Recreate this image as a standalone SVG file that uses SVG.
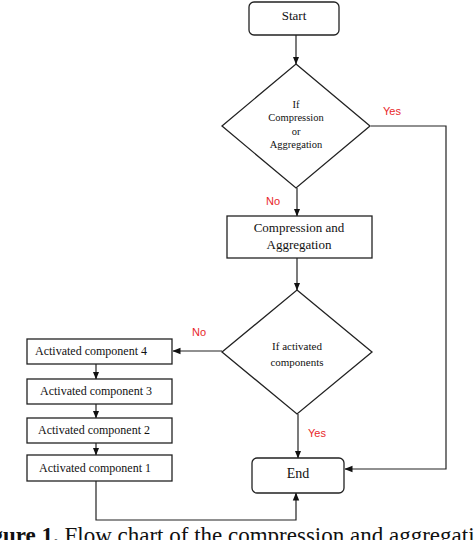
<svg xmlns="http://www.w3.org/2000/svg" width="474" height="540" viewBox="0 0 474 540">
<style>
.shape{fill:#fff;stroke:#222;stroke-width:1.3}
.t{font-family:"Liberation Serif","Times New Roman",serif;fill:#111;text-anchor:middle}
.lbl{font-family:"Liberation Sans",Arial,sans-serif;font-size:11px;fill:#e8262a}
.c{fill:none;stroke:#222;stroke-width:1.2}
.cap{font-family:"Liberation Serif","Times New Roman",serif;font-size:23px;fill:#111}
</style>
<defs>
<marker id="arr" markerUnits="userSpaceOnUse" markerWidth="8" markerHeight="8" viewBox="0 0 8 8" refX="7.5" refY="4" orient="auto">
<path d="M0,0.8 L8,4 L0,7.2 Z" fill="#111"/>
</marker>
</defs>
<rect width="474" height="540" fill="#fff"/>
<g id="connectors">
<path class="c" d="M296 35 V64" marker-end="url(#arr)"/>
<path class="c" d="M371 126 H446 V469 H345" marker-end="url(#arr)"/>
<path class="c" d="M297 188 V216" marker-end="url(#arr)"/>
<path class="c" d="M297 258 V290" marker-end="url(#arr)"/>
<path class="c" d="M222 351 H173" marker-end="url(#arr)"/>
<path class="c" d="M96 364 V379" marker-end="url(#arr)"/>
<path class="c" d="M96 404 V418" marker-end="url(#arr)"/>
<path class="c" d="M96 443 V455" marker-end="url(#arr)"/>
<path class="c" d="M298 414 V458" marker-end="url(#arr)"/>
<path class="c" d="M96 481 V520 H296 V493" marker-end="url(#arr)"/>
<text class="lbl" x="383" y="115">Yes</text>
<text class="lbl" x="266" y="205">No</text>
<text class="lbl" x="192" y="336">No</text>
<text class="lbl" x="308" y="437">Yes</text>
</g>
<g id="start">
<rect class="shape" x="249" y="2" width="90" height="33" rx="5"/>
<text class="t" x="294" y="20" font-size="13">Start</text>
</g>
<g id="decision1">
<polygon class="shape" points="296,64 370,126 296,188 222,126"/>
<text class="t" x="296" y="108" font-size="10.5">If</text>
<text class="t" x="296" y="121" font-size="10.5">Compression</text>
<text class="t" x="296" y="135" font-size="10.5">or</text>
<text class="t" x="296" y="148" font-size="10.5">Aggregation</text>
</g>
<g id="process">
<rect class="shape" x="227" y="216" width="145" height="42"/>
<text class="t" x="299" y="232" font-size="13">Compression and</text>
<text class="t" x="299" y="249" font-size="13">Aggregation</text>
</g>
<g id="decision2">
<polygon class="shape" points="297,290 372,352 297,414 222,352"/>
<text class="t" x="297" y="350" font-size="11">If activated</text>
<text class="t" x="297" y="366" font-size="11">components</text>
</g>
<g id="comp4">
<rect class="shape" x="27" y="339" width="145" height="25"/>
<text class="t" x="91" y="355" font-size="12">Activated component 4</text>
</g>
<g id="comp3">
<rect class="shape" x="27" y="379" width="145" height="25"/>
<text class="t" x="96" y="395" font-size="12">Activated component 3</text>
</g>
<g id="comp2">
<rect class="shape" x="27" y="418" width="145" height="25"/>
<text class="t" x="94" y="434" font-size="12">Activated component 2</text>
</g>
<g id="comp1">
<rect class="shape" x="27" y="455" width="145" height="26"/>
<text class="t" x="95" y="472" font-size="12">Activated component 1</text>
</g>
<g id="end">
<rect class="shape" x="252" y="458" width="92" height="35" rx="5"/>
<text class="t" x="298" y="478" font-size="14">End</text>
</g>
<text class="cap" x="-29" y="543"><tspan font-weight="bold">Figure 1.</tspan> Flow chart of the compression and aggregation process</text>
</svg>
